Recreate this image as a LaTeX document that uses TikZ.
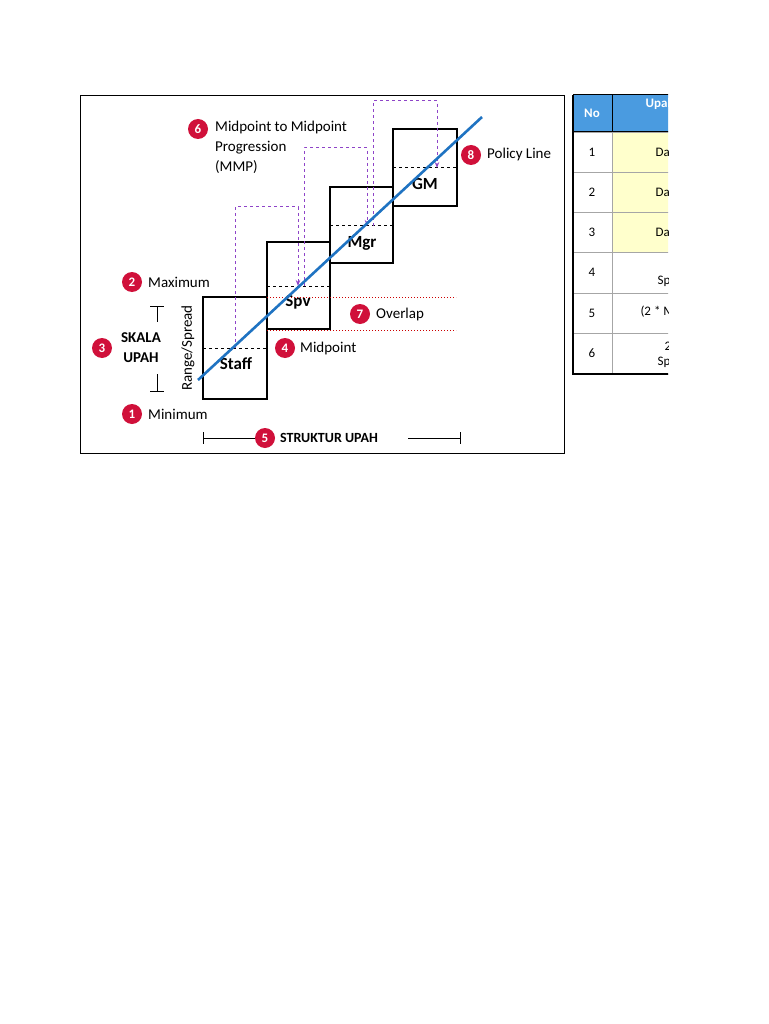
\documentclass[tikz,border=0pt]{standalone}
\usepackage{fontspec}
\setmainfont{Carlito}
\usetikzlibrary{arrows.meta}
\definecolor{numred}{HTML}{D0103A}
\definecolor{polblue}{HTML}{1F73C2}
\definecolor{mmp}{HTML}{8E44C8}
\definecolor{hdr}{HTML}{4A9BE0}
\definecolor{yel}{HTML}{FFFFCC}
\tikzset{
 num/.style={circle,fill=numred,text=white,inner sep=0pt,minimum size=20pt,font=\bfseries\fontsize{13}{15}\selectfont},
 lbl/.style={anchor=west,font=\fontsize{15}{20}\selectfont,inner sep=0pt},
 gfont/.style={font=\bfseries\fontsize{17}{19}\selectfont},
 grade/.style={draw=black,line width=1.6pt},
 midl/.style={dashed,line width=1pt},
 prog/.style={mmp,dashed,line width=1pt,-{Stealth[length=6pt]}},
 ovl/.style={red!80!black,dotted,line width=1pt},
 cell/.style={draw=gray!70,line width=0.6pt},
 tfont/.style={font=\fontsize{13}{15}\selectfont}
}
\begin{document}
\begin{tikzpicture}[x=1pt,y=-1pt]
\useasboundingbox[fill=white] (0,0) rectangle (768,1024);
\draw[line width=0.9pt] (80,95) rectangle (564,453);
% grades
\draw[grade] (203,297) rectangle (267,399);
\draw[grade] (267,242) rectangle (330,329);
\draw[grade] (330,187) rectangle (393,263);
\draw[grade] (393,129) rectangle (457,206);
\draw[midl] (203,348) -- (267,348);
\draw[midl] (267,286) -- (330,286);
\draw[midl] (330,226) -- (393,226);
\draw[midl] (393,168) -- (457,168);
\node[gfont] (staff) at (236,364) {Staff};
\node[gfont] (spv) at (298,302) {Spv};
\node[gfont] (mgr) at (362,243) {Mgr};
\node[gfont] (gm) at (425,184) {GM};
% overlap
\draw[ovl] (267,297) -- (456,297);
\draw[ovl] (267,330) -- (456,330);
% progression
\coordinate (m1) at (235,348); \coordinate (m2) at (298,286);
\coordinate (m3) at (367,226); \coordinate (m4) at (437,168);
\draw[prog] (m1) -- (235,207) -- (298,207) -- (m2);
\draw[prog] (304,286) -- (304,148) -- (367,148) -- (m3);
\draw[prog] (373,226) -- (373,101) -- (437,101) -- (m4);
% policy line
\coordinate (pa) at (198,380); \coordinate (pb) at (482,117);
\draw[polblue,line width=2.6pt] (pa) -- (pb);
% labels
\node[num] (n6) at (198,129) {6};
\node[lbl,align=left,anchor=north west] (t6) at (215,121) {Midpoint to Midpoint\\Progression\\(MMP)};
\node[num] (n8) at (471,155) {8};
\node[lbl] (t8) at (487,155) {Policy Line};
\node[num] (n2) at (132,282) {2};
\node[lbl] (t2) at (148,282) {Maximum};
\node[num] (n3) at (102,348) {3};
\node[font=\bfseries\fontsize{15}{20}\selectfont,align=center] (t3) at (141,348) {SKALA\\UPAH};
\draw[line width=0.9pt] (150,306) -- (164,306) (157,306) -- (157,322);
\draw[line width=0.9pt] (150,391) -- (164,391) (157,391) -- (157,374);
\node[rotate=90,font=\fontsize{15}{17}\selectfont] (rs) at (188,348) {Range/Spread};
\node[num] (n7) at (360,314) {7};
\node[lbl] (t7) at (376,314) {Overlap};
\node[num] (n4) at (285,348) {4};
\node[lbl] (t4) at (300,348) {Midpoint};
\node[num] (n1) at (132,414) {1};
\node[lbl] (t1) at (148,414) {Minimum};
\node[num] (n5) at (265,438) {5};
\node[lbl,font=\bfseries\fontsize{14}{16}\selectfont] (t5) at (280,438) {STRUKTUR UPAH};
\draw[line width=0.9pt] (203,432) -- (203,444) (203,438) -- (n5.west);
\draw[line width=0.9pt] (460,432) -- (460,444) (460,438) -- (408,438);
% table
\begin{scope}
\clip (572,94) rectangle (668,376);
\fill[hdr] (573,95) rectangle (680,132);
\fill[yel] (612,132) rectangle (680,252);
\foreach \y in {132,172,212,252,293,333,374} \draw[cell] (573,\y) -- (680,\y);
\draw[cell] (612,132) -- (612,374);
\draw[line width=1.2pt] (573,95) -- (573,374) -- (680,374);
\draw[line width=1pt] (573,95) -- (680,95);
\draw[line width=1pt] (573,132) -- (680,132);
\draw[line width=1pt] (612,95) -- (612,132);
\node[text=white,font=\bfseries\fontsize{13}{15}\selectfont] (h1) at (592,113) {No};
\node[text=white,font=\bfseries\fontsize{13}{15}\selectfont,anchor=west] (h2) at (642,104) {Upah};
\foreach \n/\y in {1/152,2/192,3/232,4/272,5/313,6/353} \node[tfont] at (592,\y) {\n};
\foreach \y in {152,192,232} \node[tfont,anchor=west] at (652,\y) {Data};
\node[tfont,anchor=west] at (654,281) {Spread};
\node[tfont,anchor=west] at (637,312) {(2 * Min};
\node[tfont,anchor=west] at (661,346) {2};
\node[tfont,anchor=west] at (654,362) {Spread};
\end{scope}
\end{tikzpicture}
\end{document}
